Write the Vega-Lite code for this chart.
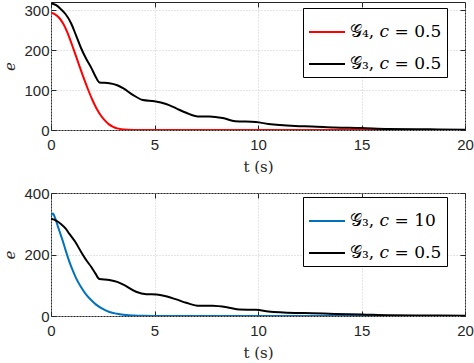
{
  "$schema": "https://vega.github.io/schema/vega-lite/v6.json",
  "background": "white",
  "padding": {"top": 1, "left": 2, "right": 0, "bottom": 0},
  "spacing": 10,
  "config": {
    "view": {"stroke": "#262626", "strokeWidth": 1},
    "axis": {
      "labelFont": "Liberation Sans", "labelFontSize": 15, "labelColor": "#262626",
      "titleFont": "DejaVu Serif", "titleFontSize": 15, "titleFontWeight": "normal", "titleColor": "#262626",
      "grid": true, "gridColor": "#c8c8c8", "gridDash": [1, 2], "gridWidth": 1,
      "domain": false, "ticks": true, "tickSize": -5, "tickColor": "#262626", "labelPadding": 7, "labelFlush": false
    },
    "axisX": {"labelPadding": 12, "titlePadding": 7},
    "legend": {
      "labelFont": "DejaVu Serif", "labelFontSize": 17, "labelColor": "black",
      "strokeColor": "black", "fillColor": "white", "padding": 5, "rowPadding": 5,
      "symbolType": "stroke", "symbolSize": 1296, "symbolStrokeWidth": 2, "title": null, "labelLimit": 300, "labelOffset": 4
    }
  },
  "datasets": {
    "top": [
      {"t": 0, "e": 293, "s": "𝒢₄, 𝑐 = 0.5"},
      {"t": 0.2, "e": 289, "s": "𝒢₄, 𝑐 = 0.5"},
      {"t": 0.4, "e": 280, "s": "𝒢₄, 𝑐 = 0.5"},
      {"t": 0.6, "e": 265, "s": "𝒢₄, 𝑐 = 0.5"},
      {"t": 0.8, "e": 243, "s": "𝒢₄, 𝑐 = 0.5"},
      {"t": 1.0, "e": 215, "s": "𝒢₄, 𝑐 = 0.5"},
      {"t": 1.2, "e": 186, "s": "𝒢₄, 𝑐 = 0.5"},
      {"t": 1.4, "e": 156, "s": "𝒢₄, 𝑐 = 0.5"},
      {"t": 1.6, "e": 127, "s": "𝒢₄, 𝑐 = 0.5"},
      {"t": 1.8, "e": 100, "s": "𝒢₄, 𝑐 = 0.5"},
      {"t": 2.0, "e": 75, "s": "𝒢₄, 𝑐 = 0.5"},
      {"t": 2.2, "e": 54, "s": "𝒢₄, 𝑐 = 0.5"},
      {"t": 2.4, "e": 37, "s": "𝒢₄, 𝑐 = 0.5"},
      {"t": 2.6, "e": 24, "s": "𝒢₄, 𝑐 = 0.5"},
      {"t": 2.8, "e": 14, "s": "𝒢₄, 𝑐 = 0.5"},
      {"t": 3.0, "e": 8, "s": "𝒢₄, 𝑐 = 0.5"},
      {"t": 3.2, "e": 4, "s": "𝒢₄, 𝑐 = 0.5"},
      {"t": 3.5, "e": 1.5, "s": "𝒢₄, 𝑐 = 0.5"},
      {"t": 4.0, "e": 0.3, "s": "𝒢₄, 𝑐 = 0.5"},
      {"t": 5.0, "e": 0, "s": "𝒢₄, 𝑐 = 0.5"},
      {"t": 20, "e": 0, "s": "𝒢₄, 𝑐 = 0.5"},
      {"t": 0, "e": 317, "s": "𝒢₃, 𝑐 = 0.5"},
      {"t": 0.25, "e": 312, "s": "𝒢₃, 𝑐 = 0.5"},
      {"t": 0.48, "e": 302, "s": "𝒢₃, 𝑐 = 0.5"},
      {"t": 0.7, "e": 290, "s": "𝒢₃, 𝑐 = 0.5"},
      {"t": 0.97, "e": 267, "s": "𝒢₃, 𝑐 = 0.5"},
      {"t": 1.2, "e": 238, "s": "𝒢₃, 𝑐 = 0.5"},
      {"t": 1.45, "e": 205, "s": "𝒢₃, 𝑐 = 0.5"},
      {"t": 1.7, "e": 178, "s": "𝒢₃, 𝑐 = 0.5"},
      {"t": 1.94, "e": 156, "s": "𝒢₃, 𝑐 = 0.5"},
      {"t": 2.15, "e": 134, "s": "𝒢₃, 𝑐 = 0.5"},
      {"t": 2.34, "e": 119, "s": "𝒢₃, 𝑐 = 0.5"},
      {"t": 2.82, "e": 117, "s": "𝒢₃, 𝑐 = 0.5"},
      {"t": 3.2, "e": 112, "s": "𝒢₃, 𝑐 = 0.5"},
      {"t": 3.5, "e": 104, "s": "𝒢₃, 𝑐 = 0.5"},
      {"t": 3.95, "e": 88, "s": "𝒢₃, 𝑐 = 0.5"},
      {"t": 4.44, "e": 75, "s": "𝒢₃, 𝑐 = 0.5"},
      {"t": 5.0, "e": 72, "s": "𝒢₃, 𝑐 = 0.5"},
      {"t": 5.56, "e": 65, "s": "𝒢₃, 𝑐 = 0.5"},
      {"t": 6.05, "e": 54, "s": "𝒢₃, 𝑐 = 0.5"},
      {"t": 6.53, "e": 43, "s": "𝒢₃, 𝑐 = 0.5"},
      {"t": 7.1, "e": 34, "s": "𝒢₃, 𝑐 = 0.5"},
      {"t": 7.66, "e": 34, "s": "𝒢₃, 𝑐 = 0.5"},
      {"t": 8.3, "e": 30, "s": "𝒢₃, 𝑐 = 0.5"},
      {"t": 8.9, "e": 22, "s": "𝒢₃, 𝑐 = 0.5"},
      {"t": 9.9, "e": 20, "s": "𝒢₃, 𝑐 = 0.5"},
      {"t": 10.5, "e": 15, "s": "𝒢₃, 𝑐 = 0.5"},
      {"t": 11.8, "e": 10, "s": "𝒢₃, 𝑐 = 0.5"},
      {"t": 12.6, "e": 9, "s": "𝒢₃, 𝑐 = 0.5"},
      {"t": 13.7, "e": 6.5, "s": "𝒢₃, 𝑐 = 0.5"},
      {"t": 15, "e": 5, "s": "𝒢₃, 𝑐 = 0.5"},
      {"t": 16.3, "e": 2.5, "s": "𝒢₃, 𝑐 = 0.5"},
      {"t": 18.3, "e": 1.6, "s": "𝒢₃, 𝑐 = 0.5"},
      {"t": 20, "e": 0.8, "s": "𝒢₃, 𝑐 = 0.5"}
    ],
    "bottom": [
      {"t": 0, "e": 326, "s": "𝒢₃, 𝑐 = 10"},
      {"t": 0.1, "e": 333, "s": "𝒢₃, 𝑐 = 10"},
      {"t": 0.2, "e": 318, "s": "𝒢₃, 𝑐 = 10"},
      {"t": 0.32, "e": 294, "s": "𝒢₃, 𝑐 = 10"},
      {"t": 0.45, "e": 268, "s": "𝒢₃, 𝑐 = 10"},
      {"t": 0.56, "e": 246, "s": "𝒢₃, 𝑐 = 10"},
      {"t": 0.7, "e": 215, "s": "𝒢₃, 𝑐 = 10"},
      {"t": 0.89, "e": 176, "s": "𝒢₃, 𝑐 = 10"},
      {"t": 1.05, "e": 148, "s": "𝒢₃, 𝑐 = 10"},
      {"t": 1.21, "e": 123, "s": "𝒢₃, 𝑐 = 10"},
      {"t": 1.45, "e": 94, "s": "𝒢₃, 𝑐 = 10"},
      {"t": 1.69, "e": 70, "s": "𝒢₃, 𝑐 = 10"},
      {"t": 1.95, "e": 51, "s": "𝒢₃, 𝑐 = 10"},
      {"t": 2.18, "e": 37, "s": "𝒢₃, 𝑐 = 10"},
      {"t": 2.5, "e": 23, "s": "𝒢₃, 𝑐 = 10"},
      {"t": 2.82, "e": 13, "s": "𝒢₃, 𝑐 = 10"},
      {"t": 3.2, "e": 7, "s": "𝒢₃, 𝑐 = 10"},
      {"t": 3.63, "e": 3, "s": "𝒢₃, 𝑐 = 10"},
      {"t": 4.0, "e": 1.5, "s": "𝒢₃, 𝑐 = 10"},
      {"t": 4.44, "e": 0.5, "s": "𝒢₃, 𝑐 = 10"},
      {"t": 5.0, "e": 0.1, "s": "𝒢₃, 𝑐 = 10"},
      {"t": 6.0, "e": 0, "s": "𝒢₃, 𝑐 = 10"},
      {"t": 20, "e": 0, "s": "𝒢₃, 𝑐 = 10"},
      {"t": 0, "e": 316, "s": "𝒢₃, 𝑐 = 0.5"},
      {"t": 0.25, "e": 310, "s": "𝒢₃, 𝑐 = 0.5"},
      {"t": 0.48, "e": 299, "s": "𝒢₃, 𝑐 = 0.5"},
      {"t": 0.7, "e": 285, "s": "𝒢₃, 𝑐 = 0.5"},
      {"t": 0.89, "e": 267, "s": "𝒢₃, 𝑐 = 0.5"},
      {"t": 1.2, "e": 238, "s": "𝒢₃, 𝑐 = 0.5"},
      {"t": 1.45, "e": 209, "s": "𝒢₃, 𝑐 = 0.5"},
      {"t": 1.7, "e": 182, "s": "𝒢₃, 𝑐 = 0.5"},
      {"t": 1.94, "e": 160, "s": "𝒢₃, 𝑐 = 0.5"},
      {"t": 2.15, "e": 138, "s": "𝒢₃, 𝑐 = 0.5"},
      {"t": 2.34, "e": 120, "s": "𝒢₃, 𝑐 = 0.5"},
      {"t": 2.82, "e": 117, "s": "𝒢₃, 𝑐 = 0.5"},
      {"t": 3.2, "e": 111, "s": "𝒢₃, 𝑐 = 0.5"},
      {"t": 3.5, "e": 102, "s": "𝒢₃, 𝑐 = 0.5"},
      {"t": 4.11, "e": 79, "s": "𝒢₃, 𝑐 = 0.5"},
      {"t": 4.6, "e": 71, "s": "𝒢₃, 𝑐 = 0.5"},
      {"t": 5.1, "e": 70, "s": "𝒢₃, 𝑐 = 0.5"},
      {"t": 5.56, "e": 64, "s": "𝒢₃, 𝑐 = 0.5"},
      {"t": 6.05, "e": 54, "s": "𝒢₃, 𝑐 = 0.5"},
      {"t": 6.53, "e": 43, "s": "𝒢₃, 𝑐 = 0.5"},
      {"t": 7.18, "e": 33, "s": "𝒢₃, 𝑐 = 0.5"},
      {"t": 7.8, "e": 33, "s": "𝒢₃, 𝑐 = 0.5"},
      {"t": 8.6, "e": 27, "s": "𝒢₃, 𝑐 = 0.5"},
      {"t": 9.1, "e": 21, "s": "𝒢₃, 𝑐 = 0.5"},
      {"t": 9.9, "e": 20, "s": "𝒢₃, 𝑐 = 0.5"},
      {"t": 10.5, "e": 15, "s": "𝒢₃, 𝑐 = 0.5"},
      {"t": 11.8, "e": 10, "s": "𝒢₃, 𝑐 = 0.5"},
      {"t": 12.6, "e": 9, "s": "𝒢₃, 𝑐 = 0.5"},
      {"t": 13.7, "e": 6.5, "s": "𝒢₃, 𝑐 = 0.5"},
      {"t": 15, "e": 5, "s": "𝒢₃, 𝑐 = 0.5"},
      {"t": 16.3, "e": 2.5, "s": "𝒢₃, 𝑐 = 0.5"},
      {"t": 18.3, "e": 1.6, "s": "𝒢₃, 𝑐 = 0.5"},
      {"t": 20, "e": 0.8, "s": "𝒢₃, 𝑐 = 0.5"}
    ]
  },
  "resolve": {"scale": {"color": "independent"}, "legend": {"color": "independent"}},
  "vconcat": [
    {
      "width": 414, "height": 128,
      "data": {"name": "top"},
      "resolve": {"axis": {"x": "independent", "y": "independent"}},
      "layer": [
        {
          "mark": {"type": "line", "strokeWidth": 2, "clip": true, "interpolate": "monotone"},
          "encoding": {
            "x": {"field": "t", "type": "quantitative", "scale": {"domain": [0, 20], "nice": false},
                  "axis": {"values": [0, 5, 10, 15, 20], "title": "t (s)"}},
            "y": {"field": "e", "type": "quantitative", "scale": {"domain": [0, 320], "nice": false},
                  "axis": {"values": [0, 100, 200, 300], "title": "e", "titleFontStyle": "italic", "titlePadding": 6}},
            "color": {"field": "s", "type": "nominal",
                      "scale": {"domain": ["𝒢₄, 𝑐 = 0.5", "𝒢₃, 𝑐 = 0.5"], "range": ["#ff0000", "#000000"]},
                      "legend": {"orient": "none", "legendX": 252, "legendY": 6}}
          }
        },
        {
          "mark": {"type": "line", "opacity": 0, "clip": true},
          "encoding": {
            "x": {"field": "t", "type": "quantitative",
                  "axis": {"orient": "top", "values": [0, 5, 10, 15, 20], "labels": false, "grid": false, "title": null}},
            "y": {"field": "e", "type": "quantitative",
                  "axis": {"orient": "right", "values": [0, 100, 200, 300], "labels": false, "grid": false, "title": null}},
            "detail": {"field": "s"}
          }
        }
      ]
    },
    {
      "width": 414, "height": 123,
      "data": {"name": "bottom"},
      "resolve": {"axis": {"x": "independent", "y": "independent"}},
      "layer": [
        {
          "mark": {"type": "line", "strokeWidth": 2, "clip": true, "interpolate": "monotone"},
          "encoding": {
            "x": {"field": "t", "type": "quantitative", "scale": {"domain": [0, 20], "nice": false},
                  "axis": {"values": [0, 5, 10, 15, 20], "title": "t (s)"}},
            "y": {"field": "e", "type": "quantitative", "scale": {"domain": [0, 400], "nice": false},
                  "axis": {"values": [0, 200, 400], "title": "e", "titleFontStyle": "italic", "titlePadding": 6}},
            "color": {"field": "s", "type": "nominal",
                      "scale": {"domain": ["𝒢₃, 𝑐 = 10", "𝒢₃, 𝑐 = 0.5"], "range": ["#0072bd", "#000000"]},
                      "legend": {"orient": "none", "legendX": 252, "legendY": 4}}
          }
        },
        {
          "mark": {"type": "line", "opacity": 0, "clip": true},
          "encoding": {
            "x": {"field": "t", "type": "quantitative",
                  "axis": {"orient": "top", "values": [0, 5, 10, 15, 20], "labels": false, "grid": false, "title": null}},
            "y": {"field": "e", "type": "quantitative",
                  "axis": {"orient": "right", "values": [0, 200, 400], "labels": false, "grid": false, "title": null}},
            "detail": {"field": "s"}
          }
        }
      ]
    }
  ]
}
